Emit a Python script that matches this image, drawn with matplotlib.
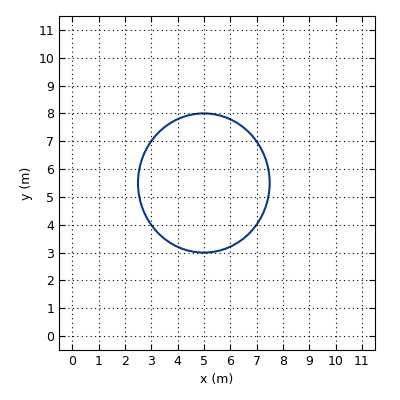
import matplotlib
matplotlib.use('Agg')
import matplotlib.pyplot as plt
from matplotlib.patches import Circle

# circle
center_x = 5.0
center_y = 5.5
radius = 2.5
ticks = list(range(0, 12))

fig = plt.figure(figsize=(4, 4), dpi=100)
ax = fig.add_axes([59/400, 50/400, 316/400, 334/400])

ax.add_patch(Circle((center_x, center_y), radius, fill=False,
                    edgecolor='#0a3a8c', linewidth=1.5))

ax.set_xlim(-0.5, 11.5)
ax.set_ylim(-0.5, 11.5)
ax.set_xticks(ticks)
ax.set_yticks(ticks)
ax.tick_params(direction='in', top=True, right=True, labelsize=9, length=4)
ax.grid(True, color='black', linestyle=(0, (1, 3)), linewidth=0.8)
ax.set_xlabel('x (m)', fontsize=9)
ax.set_ylabel('y (m)', fontsize=9)

fig.savefig('out.png', dpi=100)
